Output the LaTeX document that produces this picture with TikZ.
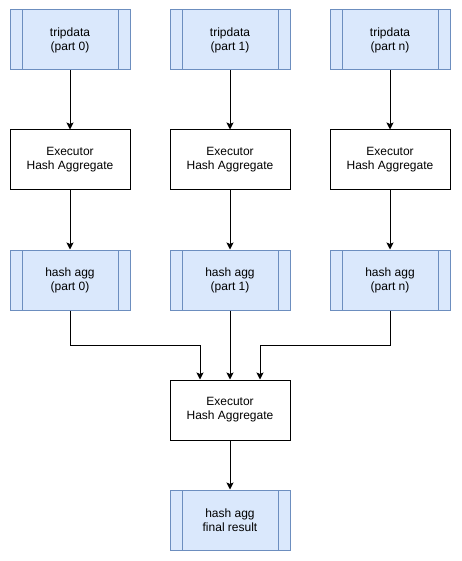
\documentclass[tikz,border=0pt]{standalone}
\usepackage{fontspec}
\setmainfont{Liberation Sans}
\usepackage{tikz}
\usetikzlibrary{arrows.meta}
\definecolor{procfill}{HTML}{DAE8FC}
\definecolor{procline}{HTML}{6C8EBF}

\begin{document}
\begin{tikzpicture}[x=1pt, y=-1pt, line width=1pt, font=\fontsize{12}{14}\selectfont]
        \tikzstyle{procbox} = [rectangle, draw=procline, fill=procfill, minimum width=120pt, minimum height=60pt, inner sep=0pt, align=center,
            path picture={\draw[procline] ([xshift=12pt]path picture bounding box.north west) -- ([xshift=12pt]path picture bounding box.south west);
                \draw[procline] ([xshift=-12pt]path picture bounding box.north east) -- ([xshift=-12pt]path picture bounding box.south east);}]
        \tikzstyle{execbox} = [rectangle, draw, fill=white, minimum width=120pt, minimum height=60pt, inner sep=0pt, align=center]
        \tikzstyle{flow} = [draw, -{Stealth[length=7pt, width=7pt, inset=1.5pt]}]
        \useasboundingbox (0,0) rectangle (461,561);
        \node[procbox] (t0) at (70,40) {tripdata\\(part 0)};
        \node[procbox] (t1) at (230,40) {tripdata\\(part 1)};
        \node[procbox] (tn) at (390,40) {tripdata\\(part n)};
        \node[execbox] (e0) at (70,160) {Executor\\Hash Aggregate};
        \node[execbox] (e1) at (230,160) {Executor\\Hash Aggregate};
        \node[execbox] (en) at (390,160) {Executor\\Hash Aggregate};
        \node[procbox] (h0) at (70,280) {hash agg\\(part 0)};
        \node[procbox] (h1) at (230,280) {hash agg\\(part 1)};
        \node[procbox] (hn) at (390,280) {hash agg\\(part n)};
        \node[execbox] (ef) at (230,410) {Executor\\Hash Aggregate};
        \node[procbox] (hf) at (230,520) {hash agg\\final result};
        \draw[flow] (t0) -- (e0);
        \draw[flow] (t1) -- (e1);
        \draw[flow] (tn) -- (en);
        \draw[flow] (e0) -- (h0);
        \draw[flow] (e1) -- (h1);
        \draw[flow] (en) -- (hn);
        \draw[flow] (h0.south) |- (200,345) -- (ef.north -| 200,0);
        \draw[flow] (h1) -- (ef);
        \draw[flow] (hn.south) |- (260,345) -- (ef.north -| 260,0);
        \draw[flow] (ef) -- (hf);
    \end{tikzpicture}
\end{document}
